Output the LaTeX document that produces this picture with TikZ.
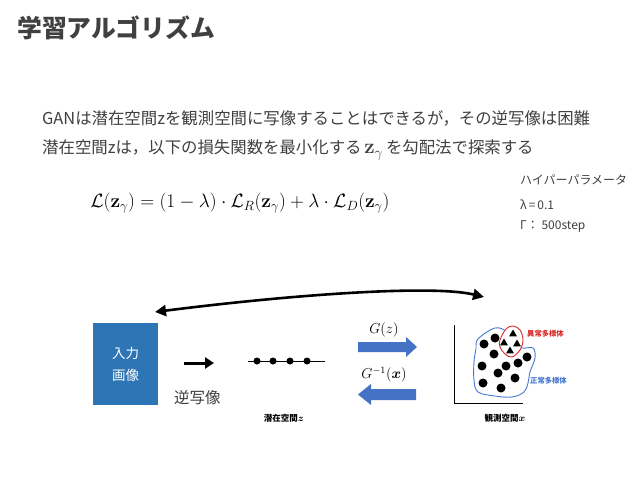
\documentclass[tikz,border=0pt]{standalone}
\usepackage{amsmath,bm}
\usepackage[no-math]{fontspec}
\setmainfont{Noto Sans CJK JP}
\usetikzlibrary{arrows.meta,shapes.geometric}
\definecolor{txt}{RGB}{64,64,64}
\definecolor{boxblue}{RGB}{46,117,182}
\definecolor{arrblue}{RGB}{68,114,196}
\definecolor{manired}{RGB}{220,40,40}
\definecolor{maniblue}{RGB}{70,120,210}
\tikzset{
  body/.style={anchor=west, inner sep=0, text=txt, font=\fontsize{16.4}{20}\selectfont},
  small/.style={anchor=west, inner sep=0, text=txt, font=\fontsize{12}{14}\selectfont},
  dot/.style={circle, fill=black, inner sep=0, minimum size=9},
  sdot/.style={circle, fill=black, inner sep=0, minimum size=7},
  tri/.style={regular polygon, regular polygon sides=3, fill=black, inner sep=0, minimum size=10},
  blockarrow/.style={fill=arrblue},
}
\begin{document}
\begin{tikzpicture}[x=1pt,y=-1pt]
\useasboundingbox[fill=white] (0,0) rectangle (638,479);

\node[anchor=west, inner sep=0, text=txt, font=\fontsize{24.8}{28}\selectfont\bfseries] (title) at (17,28) {学習アルゴリズム};

\node[body] (l1) at (42,118) {GANは潜在空間zを観測空間に写像することはできるが，その逆写像は困難};
\node[body] (l2) at (42,150) {潜在空間zは，以下の損失関数を最小化する\,{\fontsize{20.74}{22}\selectfont$\mathbf{z}_\gamma$}\,を勾配法で探索する};

\node[inner sep=0, font=\fontsize{20.74}{24}\selectfont] (eq) at (240,203)
  {\scalebox{0.93}{$\mathcal{L}(\mathbf{z}_\gamma) = (1-\lambda)\cdot\mathcal{L}_R(\mathbf{z}_\gamma) + \lambda\cdot\mathcal{L}_D(\mathbf{z}_\gamma)$}};

\node[small] (hp) at (520,180) {ハイパーパラメータ};
\node[small] (lam) at (520,205) {λ\,=\,0.1};
\node[small] (gam) at (520,226) {Γ：\ 500step};

% double arrow
\coordinate (la) at (155,312);
\coordinate (ra) at (484,297);
\draw[line width=2.6, {Triangle[length=11,width=11]}-{Triangle[length=11,width=11]}]
  (la) .. controls (280,296) and (430,284) .. (ra);

% input image
\node[fill=boxblue, minimum width=65, minimum height=82, inner sep=0] (inp) at (125.5,364) {};
\node[text=white, align=center, font=\fontsize{13.5}{22}\selectfont] (inptxt) at (125.5,364) {入力\\画像};

\coordinate (a1) at (184,363);
\coordinate (a2) at (214,363);
\draw[line width=3, -{Triangle[length=9,width=11]}] (a1) -- (a2);
\node[anchor=west, inner sep=0, text=txt, font=\fontsize{15.5}{18}\selectfont] (inv) at (174,398) {逆写像};

% latent space
\coordinate (z0) at (248,361);
\coordinate (z1) at (325,361);
\draw[line width=1] (z0) -- (z1);
\foreach \x/\n in {257/1,273/2,290/3,307/4} \node[sdot] (zd\n) at (\x,361) {};
\node[inner sep=0, font=\fontsize{8.5}{10}\selectfont\bfseries] (zlab) at (284,418) {潜在空間\scalebox{1.2}{$\bm{z}$}};

% blue block arrows
\fill[blockarrow] (358,342) -- (406,342) -- (406,337) -- (417,347) -- (406,357) -- (406,352) -- (358,352) -- cycle;
\fill[blockarrow] (416,389) -- (371,389) -- (371,384) -- (358,394.5) -- (371,405) -- (371,400) -- (416,400) -- cycle;
\node[inner sep=0, font=\fontsize{12}{15}\selectfont] (gz) at (384,330) {\scalebox{1.2}{$G(z)$}};
\node[inner sep=0, font=\fontsize{12}{15}\selectfont] (ginv) at (384,375) {\scalebox{1.2}{$G^{-1}(\bm{x})$}};

% observation space
\coordinate (ay) at (454,325);
\coordinate (ao) at (454,403);
\coordinate (ax) at (523,403);
\draw[line width=0.9] (ay) -- (ao) -- (ax);
\draw[maniblue, line width=0.9] plot[smooth cycle, tension=0.6] coordinates {
  (478,339) (495,328) (507,332) (514,343) (522,348) (533,348) (535,358)
  (530,372) (528,383) (524,392) (512,397) (495,396) (478,392) (474,380)
  (474,362) (476,349)};
\draw[manired, line width=0.9, fill=white] plot[smooth cycle, tension=0.6] coordinates {
  (500,340) (506,329) (513,326) (520,330) (523,340) (520,350) (512,357) (505,354) (500,347)};
\foreach \x/\y [count=\i] in {495/338,484/344,494/354,482/366,506/366,527/357,518/363,498/373,515/378,483/383,501/388}
  \node[dot] (od\i) at (\x,\y) {};
\foreach \x/\y [count=\i] in {513/334,504/343,517/344,510/351}
  \node[tri, minimum size=9] (ot\i) at (\x,\y) {};
\node[anchor=west, inner sep=0, text=manired, font=\fontsize{7.3}{8}\selectfont\bfseries] (ano) at (527,334) {異常多様体};
\node[anchor=west, inner sep=0, text=maniblue, font=\fontsize{7.3}{8}\selectfont\bfseries] (nor) at (530,381) {正常多様体};
\node[inner sep=0, font=\fontsize{8.5}{10}\selectfont\bfseries] (xlab) at (505,418) {観測空間\scalebox{1.2}{$\bm{x}$}};
\end{tikzpicture}
\end{document}
